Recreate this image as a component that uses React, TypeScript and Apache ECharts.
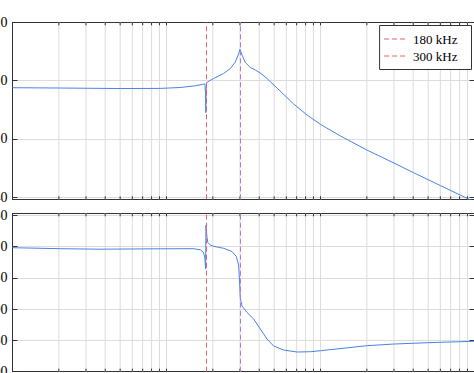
import React, { useEffect, useRef } from "react";
import * as echarts from "echarts";

// Magnitude response (top panel)
const magFreq = [10000, 20400, 50000, 91000, 122700, 153700, 170700, 177200, 178000, 179200, 180000, 180800, 182000, 184000, 202100, 234800, 259600, 279800, 293900, 300000, 309200, 324900, 350200, 377300, 406600, 449600, 522200, 669500, 818300, 1000000, 1348000, 2000000, 3000000, 4000000, 6000000, 9000000, 10000000];
const magDb = [-2.43, -2.54, -2.71, -2.67, -2.36, -1.78, -1.33, -1.09, -1.5, -4.5, -11.0, -4.0, -0.8, -0.48, 0.72, 2.44, 4.15, 6.38, 9.13, 10.74, 8.78, 6.21, 4.5, 3.64, 2.61, 0.72, -2.54, -8.02, -11.8, -15.0, -19.0, -23.8, -28.26, -31.52, -35.98, -40.44, -41.47];

// Phase response (bottom panel)
const phaseFreq = [10000, 20400, 37060, 91000, 149100, 165600, 173200, 177200, 179500, 180000, 180500, 182500, 185300, 192300, 202100, 234800, 266200, 284000, 293900, 298300, 301500, 309200, 333300, 367900, 406600, 449600, 496300, 576500, 704600, 859900, 1000000, 2000000, 3000000, 4950000, 10000000];
const phaseDeg = [-1.54, -3.14, -3.94, -3.3, -3.14, -4.9, -8.42, -16.4, -35.6, 10, 34.8, 18.8, 6.8, 2.8, 0.7, -2.5, -7.6, -15.6, -29.2, -56.4, -82, -94.8, -105.2, -115.7, -131.7, -147.7, -158.9, -165.3, -168.5, -168.0, -166.4, -158.4, -155.7, -153.6, -151.3];

// Marker frequencies
const markerNames = ["180 kHz", "300 kHz"];
const markerFreqs = [180000, 300000];

// Log grid positions
const gridFreqs = [
  20000, 30000, 40000, 50000, 60000, 70000, 80000, 90000,
  100000, 200000, 300000, 400000, 500000, 600000, 700000, 800000, 900000,
  1000000, 2000000, 3000000, 4000000, 5000000, 6000000, 7000000, 8000000, 9000000,
];

const MAG_MIN = -40.7;
const MAG_MAX = 20;
const MAG_STEP = 20;
const PH_MIN = -200;
const PH_MAX = 53.5;
const PH_STEP = 50;

const FRAME = "#333333";
const GRIDC = "#dcdcdc";
const BLUE = "#4a82e6";
const RED = "#e4606f";
const PURPLE = "#b47ad8";
const SERIF = "'Liberation Serif', 'Times New Roman', 'DejaVu Serif', serif";

export default function App() {
  const ref = useRef<HTMLDivElement>(null);
  useEffect(() => {
    const chart = echarts.init(ref.current!, null, { renderer: "svg" });

    const xBase = (gridIndex: number, position: string) => ({
      type: "log",
      logBase: 10,
      min: 1e4,
      max: 1e7,
      gridIndex,
      position,
      axisLine: { show: true, onZero: false, lineStyle: { color: FRAME, width: 1 } },
      axisTick: { show: false },
      axisLabel: { show: false },
      splitLine: { show: false },
    });

    const yLeft = (gridIndex: number, min: number, max: number, step: number, splitNumber: number) => ({
      type: "value",
      gridIndex,
      min,
      max,
      splitNumber,
      position: "left",
      axisLine: { show: true, onZero: false, lineStyle: { color: FRAME, width: 1 } },
      axisTick: { show: true, inside: true, length: 5, lineStyle: { color: FRAME } },
      axisLabel: {
        show: true,
        margin: 5,
        fontFamily: SERIF,
        fontSize: 14,
        color: "#000",
        formatter: (v: number) => (Math.abs(v / step - Math.round(v / step)) < 1e-6 ? String(v) : ""),
      },
      splitLine: { show: true, lineStyle: { color: GRIDC, width: 1 } },
    });

    const yRight = (gridIndex: number, min: number, max: number, splitNumber: number) => ({
      type: "value",
      gridIndex,
      min,
      max,
      splitNumber,
      position: "right",
      axisLine: { show: true, onZero: false, lineStyle: { color: FRAME, width: 1 } },
      axisTick: { show: true, inside: true, length: 5, lineStyle: { color: FRAME } },
      axisLabel: { show: false },
      splitLine: { show: false },
    });

    const gridSeries = (axisIdx: number, yMin: number, yMax: number) => ({
      type: "custom",
      xAxisIndex: axisIdx * 2,
      yAxisIndex: axisIdx * 2,
      silent: true,
      clip: false,
      z: 1,
      data: gridFreqs.map((f) => [f, yMin]),
      renderItem: (_p: any, api: any) => {
        const f = api.value(0);
        const t = api.coord([f, yMax]);
        const b = api.coord([f, yMin]);
        return {
          type: "group",
          children: [
            { type: "line", shape: { x1: t[0], y1: t[1], x2: b[0], y2: b[1] }, style: { stroke: GRIDC, lineWidth: 1 } },
            { type: "line", shape: { x1: t[0], y1: t[1], x2: t[0], y2: t[1] + 3 }, style: { stroke: FRAME, lineWidth: 1 } },
            { type: "line", shape: { x1: b[0], y1: b[1], x2: b[0], y2: b[1] - 3 }, style: { stroke: FRAME, lineWidth: 1 } },
          ],
        };
      },
    });

    const markerSeries = (axisIdx: number, i: number) => ({
      type: "line",
      name: markerNames[i],
      xAxisIndex: axisIdx * 2,
      yAxisIndex: axisIdx * 2,
      data: [],
      symbol: "none",
      showSymbol: false,
      color: RED,
      lineStyle: { type: [5, 3], color: RED, width: 1 },
      z: 4,
      markLine: {
        silent: true,
        symbol: ["none", "none"],
        label: { show: false },
        lineStyle: { type: [5, 3], color: i === 0 ? RED : PURPLE, width: 1 },
        data: [{ xAxis: markerFreqs[i] }],
      },
    });

    const option: any = {
      animation: false,
      backgroundColor: "#fff",
      grid: [
        { left: 12.5, top: 22.3, width: 462, height: 177, containLabel: false, outerBoundsMode: "none" },
        { left: 12.5, top: 213.3, width: 462, height: 158.4, containLabel: false, outerBoundsMode: "none" },
      ],
      xAxis: [xBase(0, "bottom"), xBase(0, "top"), xBase(1, "bottom"), xBase(1, "top")],
      yAxis: [
        yLeft(0, MAG_MIN, MAG_MAX, MAG_STEP, 3),
        yRight(0, MAG_MIN, MAG_MAX, 3),
        yLeft(1, PH_MIN, PH_MAX, PH_STEP, 5),
        yRight(1, PH_MIN, PH_MAX, 5),
      ],
      legend: {
        show: true,
        data: markerNames,
        orient: "vertical",
        right: 2.5,
        top: 25.5,
        padding: [7, 14, 7, 4],
        itemGap: 4,
        itemWidth: 24,
        itemHeight: 10,
        backgroundColor: "#fff",
        borderColor: FRAME,
        borderWidth: 1,
        borderRadius: 0,
        itemStyle: { opacity: 0 },
        lineStyle: { type: [5, 3], color: RED, width: 1 },
        textStyle: { fontFamily: SERIF, fontSize: 13, color: "#000" },
      },
      series: [
        gridSeries(0, MAG_MIN, MAG_MAX),
        gridSeries(1, PH_MIN, PH_MAX),
        {
          type: "line",
          name: "magnitude",
          xAxisIndex: 0,
          yAxisIndex: 0,
          data: magFreq.map((f, i) => [f, magDb[i]]),
          symbol: "none",
          showSymbol: false,
          lineStyle: { color: BLUE, width: 1 },
          itemStyle: { color: BLUE },
          z: 3,
          silent: true,
        },
        {
          type: "line",
          name: "phase",
          xAxisIndex: 2,
          yAxisIndex: 2,
          data: phaseFreq.map((f, i) => [f, phaseDeg[i]]),
          symbol: "none",
          showSymbol: false,
          lineStyle: { color: BLUE, width: 1 },
          itemStyle: { color: BLUE },
          z: 3,
          silent: true,
        },
        markerSeries(0, 0),
        markerSeries(0, 1),
        markerSeries(1, 0),
        markerSeries(1, 1),
      ],
    };

    chart.setOption(option);
    return () => chart.dispose();
  }, []);

  return <div ref={ref} style={{ position: "fixed", left: 0, top: 0, width: 474, height: 373 }} />;
}
